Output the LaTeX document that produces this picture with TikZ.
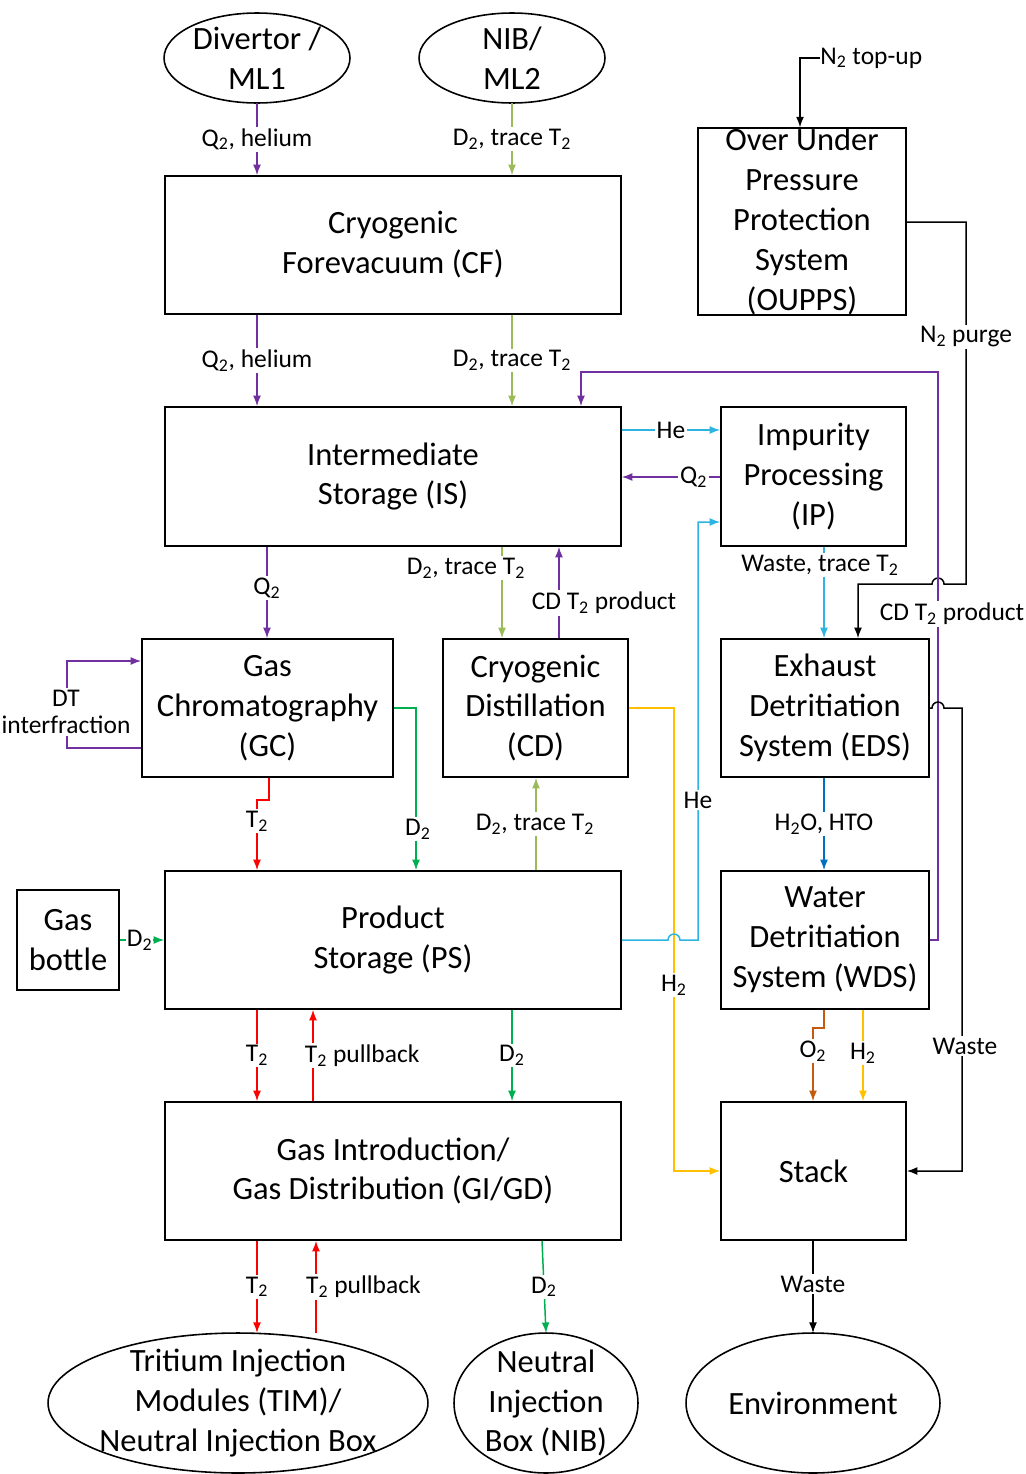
\documentclass[tikz,border=0pt]{standalone}
\usepackage{fontspec}
\setmainfont{Carlito}
\usetikzlibrary{arrows.meta}
\newcommand\tw{\textsubscript{2}}
\definecolor{cpur}{HTML}{7030A0}
\definecolor{coli}{HTML}{9BBB59}
\definecolor{ccya}{HTML}{2EB4E0}
\definecolor{cblu}{HTML}{0070C0}
\definecolor{cgrn}{HTML}{00B050}
\definecolor{cred}{HTML}{FF0000}
\definecolor{cyel}{HTML}{FFC000}
\definecolor{cbrn}{HTML}{C55A11}
\begin{document}
\begin{tikzpicture}[x=0.02cm,y=-0.02cm,
  box/.style={draw,line width=0.9pt,align=center,font=\fontsize{18.5}{22.7}\selectfont,inner sep=0pt},
  etx/.style={align=center,font=\fontsize{18.5}{22.7}\selectfont},
  lab/.style={fill=white,inner sep=1pt,font=\fontsize{14.5}{15.5}\selectfont,align=center},
  fl/.style={line width=0.85pt,-{Latex[length=6pt,width=4.5pt]}},
  ln/.style={line width=0.85pt}]
\useasboundingbox (0,0) rectangle (1025,1474);
% boxes
\node[box,minimum width=9.12cm,minimum height=2.76cm] (CF) at (393,245) {Cryogenic\\Forevacuum (CF)};
\node[box,minimum width=4.16cm,minimum height=3.7cm] (OU) at (802,221.5) {Over Under\\Pressure\\Protection\\System\\(OUPPS)};
\node[box,minimum width=9.12cm,minimum height=2.78cm] (IS) at (393,476.5) {Intermediate\\Storage (IS)};
\node[box,minimum width=3.7cm,minimum height=2.78cm] (IP) at (813.5,476.5) {Impurity\\Processing\\(IP)};
\node[box,minimum width=5.02cm,minimum height=2.76cm] (GC) at (267.5,708) {Gas\\Chromatography\\(GC)};
\node[box,minimum width=3.7cm,minimum height=2.76cm] (CD) at (535.5,708) {Cryogenic\\Distillation\\(CD)};
\node[box,minimum width=4.16cm,minimum height=2.76cm] (EDS) at (825,708) {Exhaust\\Detritiation\\System (EDS)};
\node[box,minimum width=2.04cm,minimum height=2cm] (GB) at (68,940) {Gas\\bottle};
\node[box,minimum width=9.12cm,minimum height=2.76cm] (PS) at (393,940) {Product\\Storage (PS)};
\node[box,minimum width=4.16cm,minimum height=2.76cm] (WDS) at (825,940) {Water\\Detritiation\\System (WDS)};
\node[box,minimum width=9.12cm,minimum height=2.76cm] (GI) at (393,1171) {Gas Introduction/\\Gas Distribution (GI/GD)};
\node[box,minimum width=3.7cm,minimum height=2.76cm] (ST) at (813.5,1171) {Stack};
% ellipses
\draw[line width=0.9pt] (257,58) ellipse [x radius=1.86cm,y radius=0.9cm];
\node[etx] (DV) at (257,58) {Divertor /\\ML1};
\draw[line width=0.9pt] (512,58) ellipse [x radius=1.86cm,y radius=0.9cm];
\node[etx] (NB) at (512,58) {NIB/\\ML2};
\draw[line width=0.9pt] (238,1403) ellipse [x radius=3.8cm,y radius=1.4cm];
\node[etx] (TIM) at (238,1403) {Tritium Injection\\Modules (TIM)/\\Neutral Injection Box};
\draw[line width=0.9pt] (546,1403) ellipse [x radius=1.84cm,y radius=1.4cm];
\node[etx] (NIB) at (546,1403) {Neutral\\Injection\\Box (NIB)};
\draw[line width=0.9pt] (813,1403) ellipse [x radius=2.54cm,y radius=1.4cm];
\node[etx] (EN) at (813,1403) {Environment};
\coordinate (n2) at (820,58);
% top flows
\draw[fl,cpur] (257,103) -- (CF.north -| 257,0) node[lab,text=black,pos=0.5] {Q\tw, helium};
\draw[fl,coli] (512,103) -- (CF.north -| 512,0) node[lab,text=black,pos=0.5] {D\tw, trace T\tw};
\draw[fl,cpur] (CF.south -| 257,0) -- (IS.north -| 257,0) node[lab,text=black,pos=0.5] {Q\tw, helium};
\draw[fl,coli] (CF.south -| 512,0) -- (IS.north -| 512,0) node[lab,text=black,pos=0.5] {D\tw, trace T\tw};
\draw[fl] (n2) -- (800,58) -- (OU.north -| 800,0);
\node[lab,anchor=west,inner sep=0pt] at (n2) {N\tw{} top-up};
% N2 purge
\draw[fl] (OU.east |- 0,222) -- (966,222) -- (966,584) -- (944,584) arc[start angle=0,end angle=180,radius=3.4pt] -- (858,584) -- (EDS.north -| 858,0);
\node[lab] at (966,337) {N\tw{} purge};
% CD T2 product purple long
\draw[fl,cpur] (WDS.east |- 0,940) -- (938,940) -- (938,372) -- (581,372) -- (IS.north -| 581,0);
\node[lab] at (952,614) {CD T\tw{} product};
% IS <-> IP
\draw[fl,ccya] (IS.east |- 0,430) -- (IP.west |- 0,430) node[lab,text=black,pos=0.5] {He};
\draw[fl,cpur] (IP.west |- 0,477) -- (IS.east |- 0,477) node[lab,text=black,pos=0.27] {Q\tw};
\draw[fl,ccya] (IP.south -| 824,0) -- (EDS.north -| 824,0);
\node[lab] at (820,565) {Waste, trace T\tw};
% IS -> GC, CD
\draw[fl,cpur] (IS.south -| 267,0) -- (GC.north -| 267,0) node[lab,text=black,pos=0.45] {Q\tw};
\draw[fl,coli] (IS.south -| 502,0) -- (CD.north -| 502,0);
\node[lab] at (466,568) {D\tw, trace T\tw};
\draw[fl,cpur] (CD.north -| 559,0) -- (IS.south -| 559,0);
\node[lab] at (604,603) {CD T\tw{} product};
% DT interfraction
\draw[fl,cpur] (GC.west |- 0,748) -- (67,748) -- (67,661) -- (GC.west |- 0,661);
\node[lab] at (66,712) {DT\\interfraction};
% GC -> PS
\draw[fl,cgrn] (GC.east |- 0,708) -- (416,708) -- (PS.north -| 416,0);
\node[lab] at (418,829) {D\tw};
\draw[fl,cred] (GC.south -| 269,0) -- (269,800) -- (257,800) -- (PS.north -| 257,0);
\node[lab] at (257,821) {T\tw};
\draw[fl,coli] (PS.north -| 536,0) -- (CD.south -| 536,0);
\node[lab] at (535,824) {D\tw, trace T\tw};
% CD -> Stack H2
\draw[fl,cyel] (CD.east |- 0,708) -- (674,708) -- (674,1171) -- (ST.west |- 0,1171);
\node[lab] at (674,985) {H\tw};
% PS -> IP He
\draw[fl,ccya] (PS.east |- 0,940) -- (668,940) arc[start angle=180,end angle=0,radius=3.4pt] -- (698,940) -- (698,522) -- (IP.west |- 0,522);
\node[lab] at (698,800) {He};
% gas bottle
\draw[fl,cgrn] (GB.east |- 0,940) -- (PS.west |- 0,940) node[lab,text=black,pos=0.45,inner sep=0.5pt] {D\tw};
% PS -> GI
\draw[fl,cred] (PS.south -| 257,0) -- (GI.north -| 257,0) node[lab,text=black,pos=0.5] {T\tw};
\draw[fl,cred] (GI.north -| 313,0) -- (PS.south -| 313,0) node[lab,text=black,pos=0.5,anchor=west,xshift=-6pt] {T\tw{} pullback};
\draw[fl,cgrn] (PS.south -| 512,0) -- (GI.north -| 512,0) node[lab,text=black,pos=0.5] {D\tw};
% GI -> TIM/NIB
\draw[fl,cred] (GI.south -| 257,0) -- (257,1333) node[lab,text=black,pos=0.5] {T\tw};
\draw[fl,cred] (316,1333) -- (GI.south -| 316,0) node[lab,text=black,pos=0.5,anchor=west,xshift=-7pt] {T\tw{} pullback};
\draw[fl,cgrn] (GI.south -| 542,0) -- (546,1333) node[lab,text=black,pos=0.5] {D\tw};
% EDS -> WDS
\draw[fl,cblu] (EDS.south -| 824,0) -- (WDS.north -| 824,0) node[lab,text=black,pos=0.5] {H\tw O, HTO};
% EDS waste -> stack
\draw[fl] (EDS.east |- 0,708) -- (932,708) arc[start angle=180,end angle=0,radius=3.4pt] -- (962,708) -- (962,1171) -- (ST.east |- 0,1171);
\node[lab] at (965,1046) {Waste};
% WDS -> Stack
\draw[fl,cbrn] (WDS.south -| 824,0) -- (824,1028) -- (813,1028) -- (ST.north -| 813,0);
\node[lab] at (813,1051) {O\tw};
\draw[fl,cyel] (WDS.south -| 863,0) -- (ST.north -| 863,0);
\node[lab] at (863,1053) {H\tw};
% stack -> env
\draw[fl] (ST.south -| 813,0) -- (813,1333) node[lab,pos=0.47] {Waste};
\end{tikzpicture}
\end{document}
